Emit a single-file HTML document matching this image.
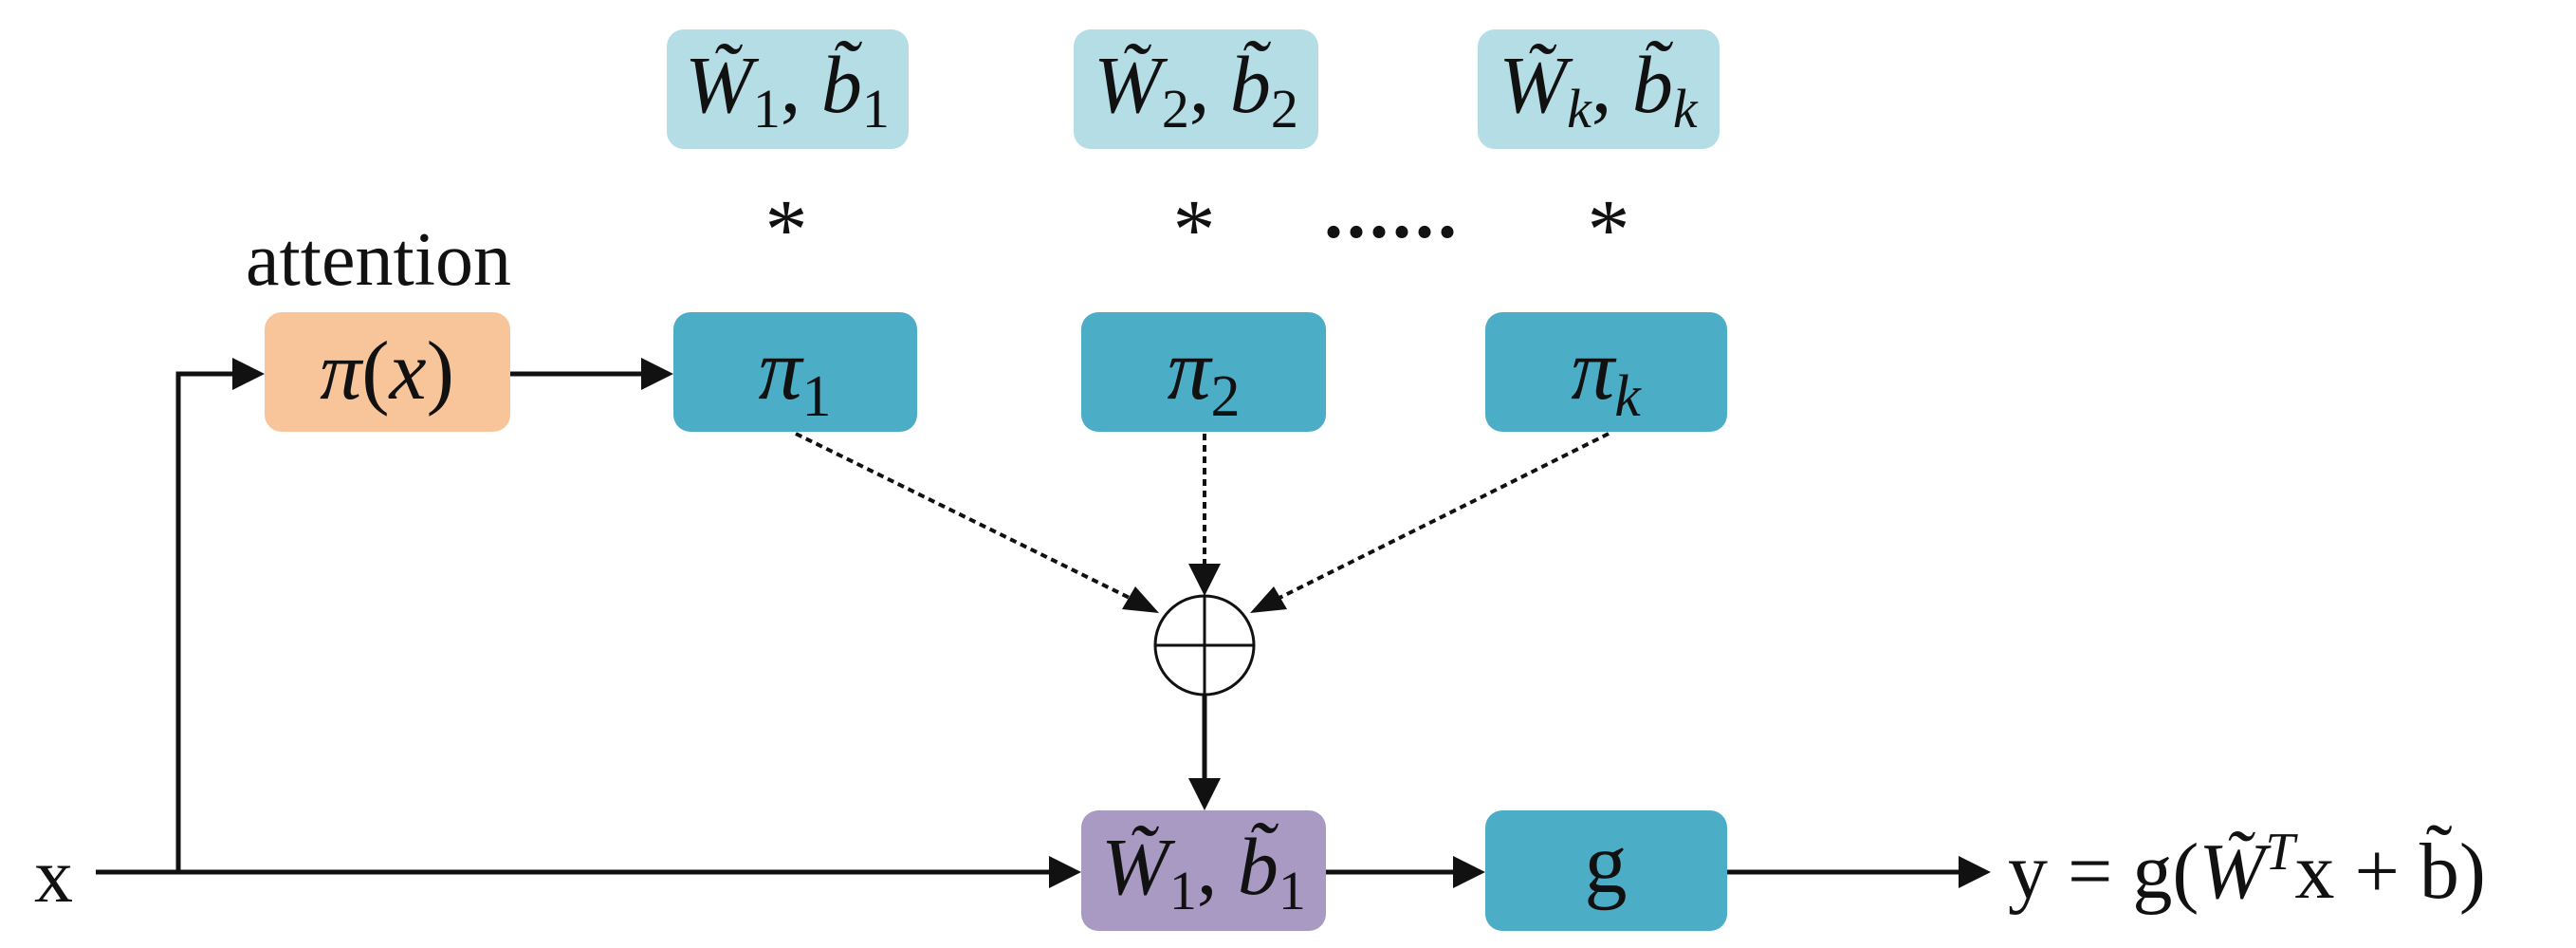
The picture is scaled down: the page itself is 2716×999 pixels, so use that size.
<!DOCTYPE html>
<html><head><meta charset="utf-8"><style>
html,body{margin:0;padding:0;background:#fff;}
svg{display:block;}
text{font-family:"Liberation Serif",serif;fill:#111;}
</style></head><body>
<svg width="2716" height="999" viewBox="0 0 2716 999" xmlns="http://www.w3.org/2000/svg">
<defs>
<marker id="ah" markerWidth="10" markerHeight="8" refX="10" refY="4" orient="auto" markerUnits="userSpaceOnUse" viewBox="0 0 10 8">
</marker>
</defs>
<!-- boxes -->
<rect x="703" y="31" width="255" height="126" rx="18" fill="#b5dde6"/>
<rect x="1132" y="31" width="258" height="126" rx="18" fill="#b5dde6"/>
<rect x="1558" y="31" width="255" height="126" rx="18" fill="#b5dde6"/>
<rect x="279" y="329" width="259" height="126" rx="18" fill="#f8c59a"/>
<rect x="710" y="329" width="257" height="126" rx="18" fill="#4badc6"/>
<rect x="1140" y="329" width="258" height="126" rx="18" fill="#4badc6"/>
<rect x="1566" y="329" width="255" height="126" rx="18" fill="#4badc6"/>
<rect x="1140" y="854" width="258" height="127" rx="18" fill="#a99ac3"/>
<rect x="1566" y="854" width="255" height="127" rx="18" fill="#4badc6"/>

<!-- solid lines -->
<g stroke="#111" stroke-width="5" fill="none">
<polyline points="101,919 1110,919"/>
<polyline points="188,919 188,394 250,394"/>
<line x1="538" y1="394" x2="680" y2="394"/>
<line x1="1270" y1="733" x2="1270" y2="824"/>
<line x1="1398" y1="919" x2="1536" y2="919"/>
<line x1="1821" y1="919" x2="2069" y2="919"/>
</g>
<g fill="#111">
<polygon points="1140,919 1106,902 1106,936"/>
<polygon points="279,394 245,377 245,411"/>
<polygon points="710,394 676,377 676,411"/>
<polygon points="1270,854 1253,820 1287,820"/>
<polygon points="1566,919 1532,902 1532,936"/>
<polygon points="2099,919 2065,902 2065,936"/>
<!-- dashed arrowheads -->
<polygon points="1270,628 1253,594 1287,594"/>
<polygon points="1222,646 1197,618 1183,642"/>
<polygon points="1318,646 1343,618 1357,642"/>
</g>
<!-- dashed lines -->
<g stroke="#111" stroke-width="4" stroke-dasharray="7 5" fill="none">
<line x1="839" y1="457" x2="1195" y2="632"/>
<line x1="1270" y1="457" x2="1270" y2="598"/>
<line x1="1696" y1="457" x2="1345" y2="632"/>
</g>
<!-- circle -->
<circle cx="1270" cy="680" r="52" fill="#fff" stroke="#111" stroke-width="3"/>
<line x1="1218" y1="680" x2="1322" y2="680" stroke="#111" stroke-width="3"/>
<line x1="1270" y1="628" x2="1270" y2="732" stroke="#111" stroke-width="3"/>

<!-- texts -->
<text x="399" y="300" font-size="80" text-anchor="middle">attention</text>
<text x="36" y="950" font-size="82">x</text>
<g font-size="90" text-anchor="middle">
<text x="829" y="272">*</text>
<text x="1259" y="272">*</text>
<text x="1696" y="272">*</text>
</g>
<text x="1468" y="250" font-size="80" text-anchor="middle" letter-spacing="4" font-weight="bold">......</text>

<text x="408" y="420" font-size="88" text-anchor="middle" font-style="italic">π<tspan font-style="normal">(</tspan>x<tspan font-style="normal">)</tspan></text>
<text x="838" y="420" font-size="92" text-anchor="middle" font-style="italic">π<tspan font-style="normal" font-size="62" dy="18">1</tspan></text>
<text x="1269" y="420" font-size="92" text-anchor="middle" font-style="italic">π<tspan font-style="normal" font-size="62" dy="18">2</tspan></text>
<text x="1693" y="420" font-size="92" text-anchor="middle" font-style="italic">π<tspan font-size="62" dy="18">k</tspan></text>
<text x="1693" y="940" font-size="90" text-anchor="middle">g</text>

<g font-size="86" font-style="italic" text-anchor="middle">
<text x="830" y="118">W̃<tspan font-style="normal" font-size="58" dy="16">1</tspan><tspan dy="-16" font-style="normal">, </tspan>b̃<tspan font-style="normal" font-size="58" dy="16">1</tspan></text>
<text x="1261" y="118">W̃<tspan font-style="normal" font-size="58" dy="16">2</tspan><tspan dy="-16" font-style="normal">, </tspan>b̃<tspan font-style="normal" font-size="58" dy="16">2</tspan></text>
<text x="1685" y="118">W̃<tspan font-size="58" dy="16">k</tspan><tspan dy="-16" font-style="normal">, </tspan>b̃<tspan font-size="58" dy="16">k</tspan></text>
<text x="1269" y="942">W̃<tspan font-style="normal" font-size="58" dy="16">1</tspan><tspan dy="-16" font-style="normal">, </tspan>b̃<tspan font-style="normal" font-size="58" dy="16">1</tspan></text>
</g>
<text x="2117" y="946" font-size="84">y = g(<tspan font-style="italic">W̃</tspan><tspan font-style="italic" font-size="56" dy="-30">T</tspan><tspan dy="30">x + b̃)</tspan></text>
</svg>
</body></html>
